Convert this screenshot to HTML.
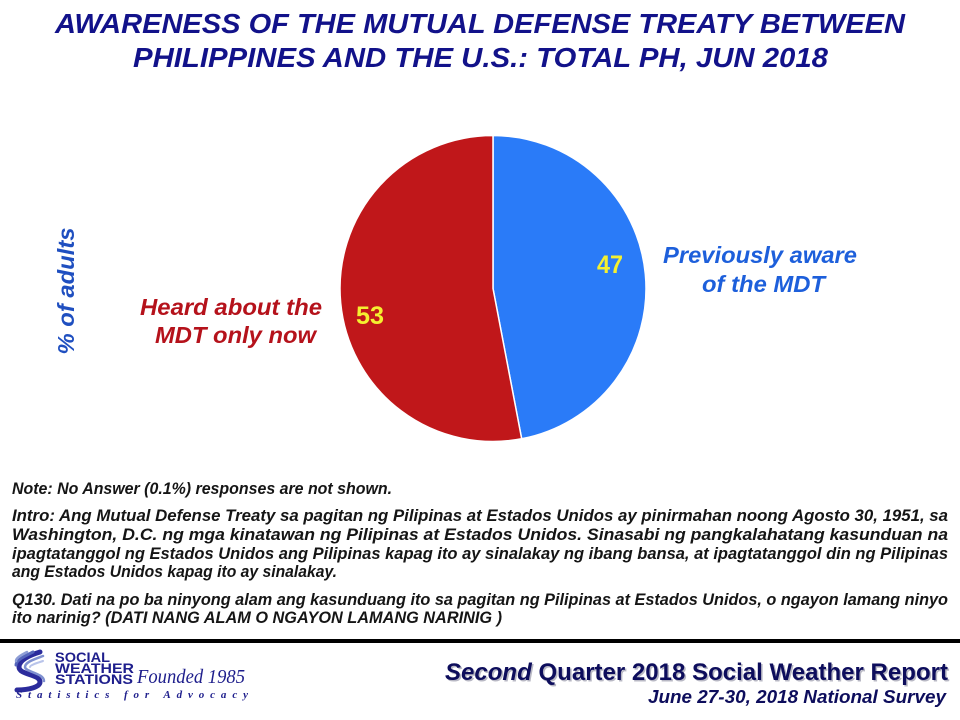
<!DOCTYPE html>
<html>
<head>
<meta charset="utf-8">
<style>
  html, body { margin: 0; padding: 0; background: #ffffff; }
  body { width: 960px; height: 720px; overflow: hidden; }
  svg { display: block; }
</style>
</head>
<body>
<svg width="960" height="720" viewBox="0 0 960 720" xmlns="http://www.w3.org/2000/svg">
  <rect x="0" y="0" width="960" height="720" fill="#ffffff"/>

  <!-- Title -->
  <g font-family="Liberation Sans, Arial, sans-serif" font-weight="bold" font-style="italic" font-size="28" fill="#12128A">
    <text x="55" y="33" textLength="850" lengthAdjust="spacingAndGlyphs">AWARENESS  OF THE MUTUAL DEFENSE TREATY BETWEEN</text>
    <text x="133" y="67" textLength="695" lengthAdjust="spacingAndGlyphs">PHILIPPINES AND THE U.S.: TOTAL PH, JUN 2018</text>
  </g>

  <!-- Y axis label -->
  <text transform="translate(74,291) rotate(-90)" text-anchor="middle" font-family="Liberation Sans, Arial, sans-serif" font-weight="bold" font-style="italic" font-size="23" fill="#1F4FC0" textLength="127" lengthAdjust="spacingAndGlyphs">% of adults</text>

  <!-- Pie -->
  <path d="M493,288.5 L493,135.5 A153,153 0 0,1 521.67,438.79 Z" fill="#2A7BF8" stroke="#ffffff" stroke-width="1.5" stroke-linejoin="round"/>
  <path d="M493,288.5 L521.67,438.79 A153,153 0 1,1 493,135.5 Z" fill="#C0171A" stroke="#ffffff" stroke-width="1.5" stroke-linejoin="round"/>

  <!-- Slice values -->
  <g font-family="Liberation Sans, Arial, sans-serif" font-weight="bold" font-size="25" fill="#F4F030">
    <text x="597" y="273" textLength="26" lengthAdjust="spacingAndGlyphs">47</text>
    <text x="356" y="324" textLength="28" lengthAdjust="spacingAndGlyphs">53</text>
  </g>

  <!-- Slice labels -->
  <g font-family="Liberation Sans, Arial, sans-serif" font-weight="bold" font-style="italic" font-size="23">
    <text x="663" y="263" fill="#1D5FDB" textLength="194" lengthAdjust="spacingAndGlyphs">Previously  aware</text>
    <text x="702" y="292" fill="#1D5FDB" textLength="123" lengthAdjust="spacingAndGlyphs">of the MDT</text>
    <text x="140" y="315" fill="#B5121B" textLength="182" lengthAdjust="spacingAndGlyphs">Heard about the</text>
    <text x="155" y="343" fill="#B5121B" textLength="161" lengthAdjust="spacingAndGlyphs">MDT only now</text>
  </g>

  <!-- Notes -->
  <g font-family="Liberation Sans, Arial, sans-serif" font-weight="bold" font-style="italic" font-size="17" fill="#151515">
    <text x="12" y="494" textLength="380" lengthAdjust="spacingAndGlyphs">Note: No Answer (0.1%) responses are not shown.</text>
    <text x="12" y="521" textLength="936" lengthAdjust="spacingAndGlyphs">Intro: Ang Mutual Defense Treaty sa pagitan ng Pilipinas at Estados Unidos ay pinirmahan noong Agosto 30, 1951, sa</text>
    <text x="12" y="540" textLength="936" lengthAdjust="spacingAndGlyphs">Washington,  D.C.  ng  mga  kinatawan  ng  Pilipinas  at  Estados  Unidos.  Sinasabi  ng  pangkalahatang  kasunduan  na</text>
    <text x="12" y="559" textLength="936" lengthAdjust="spacingAndGlyphs">ipagtatanggol ng Estados Unidos ang Pilipinas kapag ito ay sinalakay ng ibang bansa, at ipagtatanggol din ng Pilipinas</text>
    <text x="12" y="577" textLength="325" lengthAdjust="spacingAndGlyphs">ang Estados Unidos kapag ito ay sinalakay.</text>
    <text x="12" y="605" textLength="936" lengthAdjust="spacingAndGlyphs">Q130. Dati na po ba ninyong alam ang kasunduang ito sa pagitan ng Pilipinas at Estados Unidos, o ngayon lamang ninyo</text>
    <text x="12" y="623" textLength="490" lengthAdjust="spacingAndGlyphs">ito narinig? (DATI  NANG ALAM  O NGAYON LAMANG NARINIG )</text>
  </g>

  <!-- Divider -->
  <rect x="0" y="639" width="960" height="4" fill="#000000"/>

  <!-- Logo S stripes -->
  <g fill="none" stroke-linecap="round">
    <path d="M40,652 C30,655 19,660 19,667 C19,675 40,674 40,682 C40,687 29,690 17,690" stroke="#2B2B9C" stroke-width="5"/>
    <path d="M33,652 C25,656 16,660 16,665" stroke="#5566BB" stroke-width="3"/>
    <path d="M27,652 C21,655 16,658 16,661" stroke="#8E9ED6" stroke-width="2.5"/>
    <path d="M43,656 C35,659 25,662 25,667 C25,672 44,673 44,681" stroke="#7F90D0" stroke-width="2.5"/>
    <path d="M43,661 C37,663 30,665 30,667" stroke="#B9C4EA" stroke-width="2"/>
  </g>

  <!-- Logo text -->
  <g font-family="Liberation Sans, Arial, sans-serif" font-weight="bold" font-size="14" fill="#1E1E8C">
    <text x="55" y="662" textLength="55" lengthAdjust="spacingAndGlyphs">SOCIAL</text>
    <text x="55" y="673" textLength="79" lengthAdjust="spacingAndGlyphs">WEATHER</text>
    <text x="55" y="684" textLength="78" lengthAdjust="spacingAndGlyphs">STATIONS</text>
  </g>
  <text x="137" y="683" font-family="Liberation Serif, Times New Roman, serif" font-style="italic" font-size="20" fill="#1E1E8C" textLength="108" lengthAdjust="spacingAndGlyphs">Founded 1985</text>
  <text x="16" y="698" font-family="Liberation Serif, Times New Roman, serif" font-weight="bold" font-style="italic" font-size="11" fill="#1E1E8C" textLength="232" lengthAdjust="spacing">Statistics for Advocacy</text>

  <!-- Footer report title -->
  <g font-family="Liberation Sans, Arial, sans-serif" font-weight="bold" font-size="24">
    <text x="446.5" y="681.5" fill="#B8B8C4" textLength="503" lengthAdjust="spacingAndGlyphs"><tspan font-style="italic">Second</tspan> Quarter  2018  Social Weather Report</text>
    <text x="445" y="680" fill="#0D0D5C" textLength="503" lengthAdjust="spacingAndGlyphs"><tspan font-style="italic">Second</tspan> Quarter  2018  Social Weather Report</text>
  </g>
  <text x="648" y="703" font-family="Liberation Sans, Arial, sans-serif" font-weight="bold" font-style="italic" font-size="18" fill="#0D0D5C" textLength="298" lengthAdjust="spacingAndGlyphs">June 27-30, 2018 National Survey</text>
</svg>
</body>
</html>
